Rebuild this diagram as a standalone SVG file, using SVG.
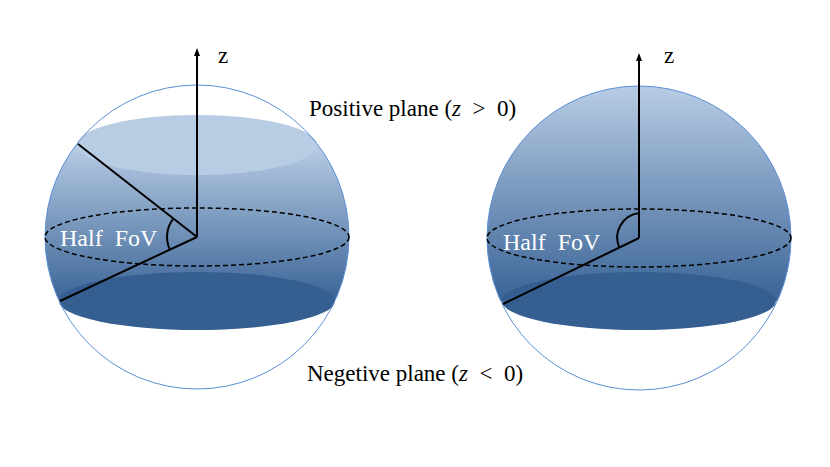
<svg xmlns="http://www.w3.org/2000/svg" width="830" height="467" viewBox="0 0 830 467">
<style>
.ax{stroke:#000;stroke-width:2;fill:none}
.dash{stroke:#000;stroke-width:1.5;fill:none;stroke-dasharray:5 3}
.sph{fill:none;stroke:#5b8fd6;stroke-width:1}
.t{font-family:"Liberation Serif",serif;font-size:23px;fill:#000;white-space:pre}
.w{font-family:"Liberation Serif",serif;font-size:24px;fill:#fff;white-space:pre}
</style>
<defs>
<linearGradient id="g" x1="0" y1="0" x2="0" y2="1">
<stop offset="0" stop-color="#b8cce4"/><stop offset="1" stop-color="#3a6496"/>
</linearGradient>
<linearGradient id="g2" gradientUnits="userSpaceOnUse" x1="0" y1="86" x2="0" y2="301">
<stop offset="0" stop-color="#b8cce4"/><stop offset="1" stop-color="#3a6496"/>
</linearGradient>
<clipPath id="c1"><circle cx="197" cy="237" r="152"/></clipPath>
<clipPath id="c2"><circle cx="639" cy="238" r="152"/></clipPath>
<marker id="ar" markerWidth="8" markerHeight="8" refX="4" refY="4" orient="auto" markerUnits="userSpaceOnUse"><path d="M0,1 L8,4 L0,7 z" fill="#000"/></marker>
</defs>
<g id="left-sphere">
<g clip-path="url(#c1)"><rect x="40" y="145" width="320" height="156" fill="url(#g)"/></g>
<ellipse cx="197" cy="301" rx="138" ry="29" fill="#355f91"/>
<ellipse cx="197" cy="145" rx="120" ry="30" fill="#b8cce4"/>
<circle class="sph" cx="197" cy="237" r="152"/>
<ellipse class="dash" cx="197" cy="237" rx="152" ry="29"/>
<text class="w" x="60" y="246">Half  FoV</text>
</g>
<g id="right-sphere">
<g clip-path="url(#c2)"><rect x="480" y="80" width="320" height="221" fill="url(#g2)"/></g>
<ellipse cx="639" cy="301" rx="137" ry="29" fill="#355f91"/>
<circle class="sph" cx="639" cy="238" r="152"/>
<ellipse class="dash" cx="639" cy="238" rx="152" ry="29"/>
<text class="w" x="503" y="250">Half  FoV</text>
</g>
<g id="connectors">
<path class="ax" d="M197,237 V52" marker-end="url(#ar)"/>
<path class="ax" d="M197,237 L78,144"/>
<path class="ax" d="M197,237 L60,301"/>
<path class="ax" d="M173,219 A30,30 0 0 0 170,250"/>
<path class="ax" d="M639,238 V57" marker-end="url(#ar)"/>
<path class="ax" d="M639,238 L503,304"/>
<path class="ax" d="M639,213 A25,25 0 0 0 619,247"/>
</g>
<g id="labels">
<text class="t" x="218" y="63">z</text>
<text class="t" x="664" y="63">z</text>
<text class="t" x="309" y="116">Positive plane (<tspan font-style="italic">z</tspan>  &gt;  0)</text>
<text class="t" x="307" y="381">Negetive plane (<tspan font-style="italic">z</tspan>  &lt;  0)</text>
</g>
</svg>
